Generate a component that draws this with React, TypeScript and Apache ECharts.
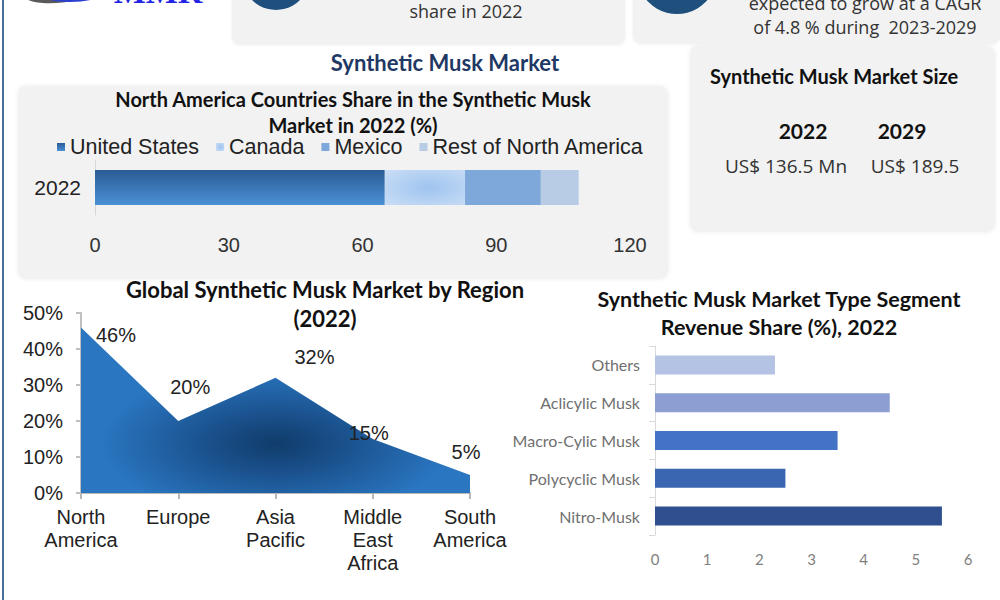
import React, { useEffect, useRef } from "react";
import * as echarts from "echarts";

const naCountries = ["United States", "Canada", "Mexico", "Rest of North America"];
const naShares = [65, 18, 17, 8.5];
const naYears = ["2022"];
const naTicks = [0, 30, 60, 90, 120];

const regions = ["North\nAmerica", "Europe", "Asia\nPacific", "Middle\nEast\nAfrica", "South\nAmerica"];
const regionShares = [46, 20, 32, 15, 5];

const typeNames = ["Nitro-Musk", "Polycyclic Musk", "Macro-Cylic Musk", "Aclicylic Musk", "Others"];
const typeShares = [5.5, 2.5, 3.5, 4.5, 2.3];

const sizeYears = ["2022", "2029"];
const sizeValues = ["US$ 136.5 Mn", "US$ 189.5"];

const TITLE_FONT = "Lato, 'Open Sans', sans-serif";
const BODY_FONT = "'Open Sans', sans-serif";
const ARIAL = "'Liberation Sans', Arial, sans-serif";

const naColors: any[] = [
  { type: "linear", x: 0, y: 0, x2: 0, y2: 1, colorStops: [{ offset: 0, color: "#2a5c95" }, { offset: 1, color: "#4b90d6" }] },
  { type: "radial", x: 0.55, y: 0.5, r: 0.9, colorStops: [{ offset: 0, color: "#9fc4f0" }, { offset: 1, color: "#d3e3f6" }] },
  "#7ea8d9",
  "#b8cce6",
];
const typeColors = ["#2f4f8e", "#3a65b0", "#4472c4", "#8d9fd2", "#b4c3e4"];
const regionLabelOffsets = [[35, 8], [12, -34], [39, -21], [-4, -6], [-4, -23]];

export default function App() {
  const ref = useRef<HTMLDivElement>(null);
  useEffect(() => {
    if (!ref.current) return;
    const chart = echarts.init(ref.current, null, { renderer: "svg" });
    const text = (t: string, x: number, y: number, o: any = {}) => ({
      type: "text",
      z: 10,
      style: {
        text: t,
        x,
        y,
        textAlign: o.align || "center",
        textVerticalAlign: "middle",
        fontSize: o.size || 16,
        fontWeight: o.weight || "normal",
        fontFamily: o.family || TITLE_FONT,
        fill: o.color || "#111",
      },
    });
    const graphic: any[] = [
      // left border
      { type: "rect", shape: { x: 2, y: 0, width: 2, height: 600 }, style: { fill: "#46709b" }, z: 5 },
      // logo fragments
      { type: "ellipse", shape: { cx: 62, cy: -4, rx: 40, ry: 14 }, rotation: 0.12, style: { fill: "#5a5a5a" }, z: 1 },
      { type: "ellipse", shape: { cx: 70, cy: -8, rx: 34, ry: 10 }, style: { fill: "#2a3fd0" }, z: 2 },
      { type: "text", z: 3, style: { text: "MMR", x: 158, y: 8, textAlign: "center", textVerticalAlign: "bottom", fontSize: 34, fontWeight: "bold", fontFamily: "'Liberation Serif', serif", fill: "#2424e6" } },
      // top panels
      { type: "rect", shape: { x: 232, y: -12, width: 393, height: 57, r: 8 }, style: { fill: "#f2f2f2", shadowBlur: 3, shadowColor: "rgba(0,0,0,0.08)" }, z: 1 },
      { type: "circle", shape: { cx: 276, cy: -24, r: 34 }, style: { fill: "#1f4f7d" }, z: 2 },
      text("share in 2022", 466, 11, { size: 18, color: "#333", family: BODY_FONT }),
      { type: "rect", shape: { x: 633, y: -12, width: 367, height: 56, r: 8 }, style: { fill: "#f2f2f2", shadowBlur: 3, shadowColor: "rgba(0,0,0,0.08)" }, z: 1 },
      { type: "circle", shape: { cx: 677, cy: -26, r: 40 }, style: { fill: "#1f4f7d" }, z: 2 },
      text("expected to grow at a CAGR", 865, 3, { size: 18, color: "#333", family: BODY_FONT }),
      text("of 4.8 % during  2023-2029", 865, 27, { size: 18, color: "#333", family: BODY_FONT }),
      // main title
      text("Synthetic Musk Market", 445, 62, { size: 22, weight: "bold", color: "#1f3864" }),
      // NA panel
      { type: "rect", shape: { x: 18, y: 86, width: 650, height: 193, r: 8 }, style: { fill: "#f2f2f2", shadowBlur: 4, shadowColor: "rgba(0,0,0,0.08)" }, z: -1 },
      text("North America Countries Share in the Synthetic Musk", 353, 99, { size: 20, weight: "bold" }),
      text("Market in 2022 (%)", 353, 125, { size: 20, weight: "bold" }),
      // market size panel
      { type: "rect", shape: { x: 690, y: 46, width: 305, height: 186, r: 8 }, style: { fill: "#f2f2f2", shadowBlur: 4, shadowColor: "rgba(0,0,0,0.08)" }, z: -1 },
      text("Synthetic Musk Market Size", 710, 76, { size: 20, weight: "bold", align: "left" }),
      text(sizeYears[0], 803, 130, { size: 21, weight: "bold" }),
      text(sizeYears[1], 902, 130, { size: 21, weight: "bold" }),
      text(sizeValues[0], 786, 166, { size: 19, color: "#333", family: BODY_FONT }),
      text(sizeValues[1], 915, 166, { size: 19, color: "#333", family: BODY_FONT }),
      // region chart title
      text("Global Synthetic Musk Market by Region", 325, 289, { size: 22, weight: "bold" }),
      text("(2022)", 325, 318, { size: 22, weight: "bold" }),
      // type chart title
      text("Synthetic Musk Market Type Segment", 779, 299, { size: 21.5, weight: "bold" }),
      text("Revenue Share (%), 2022", 779, 327, { size: 21.5, weight: "bold" }),
    ];

    const option: any = {
      animation: false,
      backgroundColor: "#ffffff",
      graphic,
      legend: {
        data: naCountries,
        left: 57,
        top: 136,
        icon: "rect",
        itemWidth: 8,
        itemHeight: 8,
        itemGap: 17,
        padding: 0,
        textStyle: { fontSize: 21.5, fontFamily: ARIAL, color: "#222" },
      },
      grid: [
        { left: 95, width: 535, top: 160, height: 55 },
        { left: 81, width: 389, top: 313, height: 180 },
        { left: 655, width: 313, top: 346, height: 189 },
      ],
      xAxis: [
        {
          gridIndex: 0, type: "value", min: naTicks[0], max: naTicks[naTicks.length - 1], interval: 30,
          axisLine: { show: false }, axisTick: { show: false }, splitLine: { show: false },
          axisLabel: { fontSize: 20, fontFamily: ARIAL, color: "#333", margin: 20 },
        },
        {
          gridIndex: 1, type: "category", data: regions, boundaryGap: false,
          axisLine: { lineStyle: { color: "#b8b8b8", width: 2 } },
          axisTick: { show: true, length: 6, lineStyle: { color: "#b8b8b8", width: 2 } },
          axisLabel: { fontSize: 20, fontFamily: ARIAL, color: "#222", lineHeight: 23, margin: 12, interval: 0 },
        },
        {
          gridIndex: 2, type: "value", min: 0, max: 6, interval: 1,
          axisLine: { show: false }, axisTick: { show: false }, splitLine: { show: false },
          axisLabel: { fontSize: 15, fontFamily: TITLE_FONT, color: "#7f7f7f", margin: 16 },
        },
      ],
      yAxis: [
        {
          gridIndex: 0, type: "category", data: naYears,
          axisLine: { lineStyle: { color: "#d6d6d6" } }, axisTick: { show: false },
          axisLabel: { fontSize: 21, fontFamily: ARIAL, color: "#222", margin: 14 },
        },
        {
          gridIndex: 1, type: "value", min: 0, max: 50, interval: 10,
          axisLine: { show: true, lineStyle: { color: "#c0c0c0", width: 2 } },
          axisTick: { show: true, length: 5, lineStyle: { color: "#c0c0c0", width: 2 } },
          splitLine: { show: false },
          axisLabel: { fontSize: 20, fontFamily: ARIAL, color: "#222", formatter: "{value}%", margin: 18 },
        },
        {
          gridIndex: 2, type: "category", data: typeNames,
          axisLine: { lineStyle: { color: "#d9d9d9" } },
          axisTick: { show: true, length: 6, lineStyle: { color: "#d9d9d9" } },
          axisLabel: { fontSize: 16, fontFamily: TITLE_FONT, color: "#6f6f6f", margin: 15 },
        },
      ],
      series: [
        ...naCountries.map((name, i) => ({
          name,
          type: "bar",
          xAxisIndex: 0,
          yAxisIndex: 0,
          stack: "na",
          barWidth: 35,
          data: [naShares[i]],
          itemStyle: { color: naColors[i] },
        })),
        {
          type: "line",
          xAxisIndex: 1,
          yAxisIndex: 1,
          data: regionShares.map((v, i) => ({
            value: v,
            label: { offset: regionLabelOffsets[i] },
          })),
          symbol: "circle",
          symbolSize: 1,
          itemStyle: { color: "rgba(0,0,0,0)" },
          lineStyle: { width: 0 },
          areaStyle: {
            opacity: 1,
            color: {
              type: "radial", x: 0.5, y: 0.7, r: 0.45,
              colorStops: [
                { offset: 0, color: "#103c6a" },
                { offset: 0.4, color: "#1a518d" },
                { offset: 1, color: "#2a76c1" },
              ],
            },
          },
          label: {
            show: true,
            position: "inside",
            formatter: "{c}%",
            fontSize: 20,
            fontFamily: ARIAL,
            color: "#222",
          },
        },
        {
          type: "bar",
          xAxisIndex: 2,
          yAxisIndex: 2,
          barWidth: 19,
          data: typeShares.map((v, i) => ({ value: v, itemStyle: { color: typeColors[i] } })),
        },
      ],
    };
    chart.setOption(option);
    return () => chart.dispose();
  }, []);
  return <div ref={ref} style={{ position: "fixed", left: 0, top: 0, width: 1000, height: 600 }} />;
}
